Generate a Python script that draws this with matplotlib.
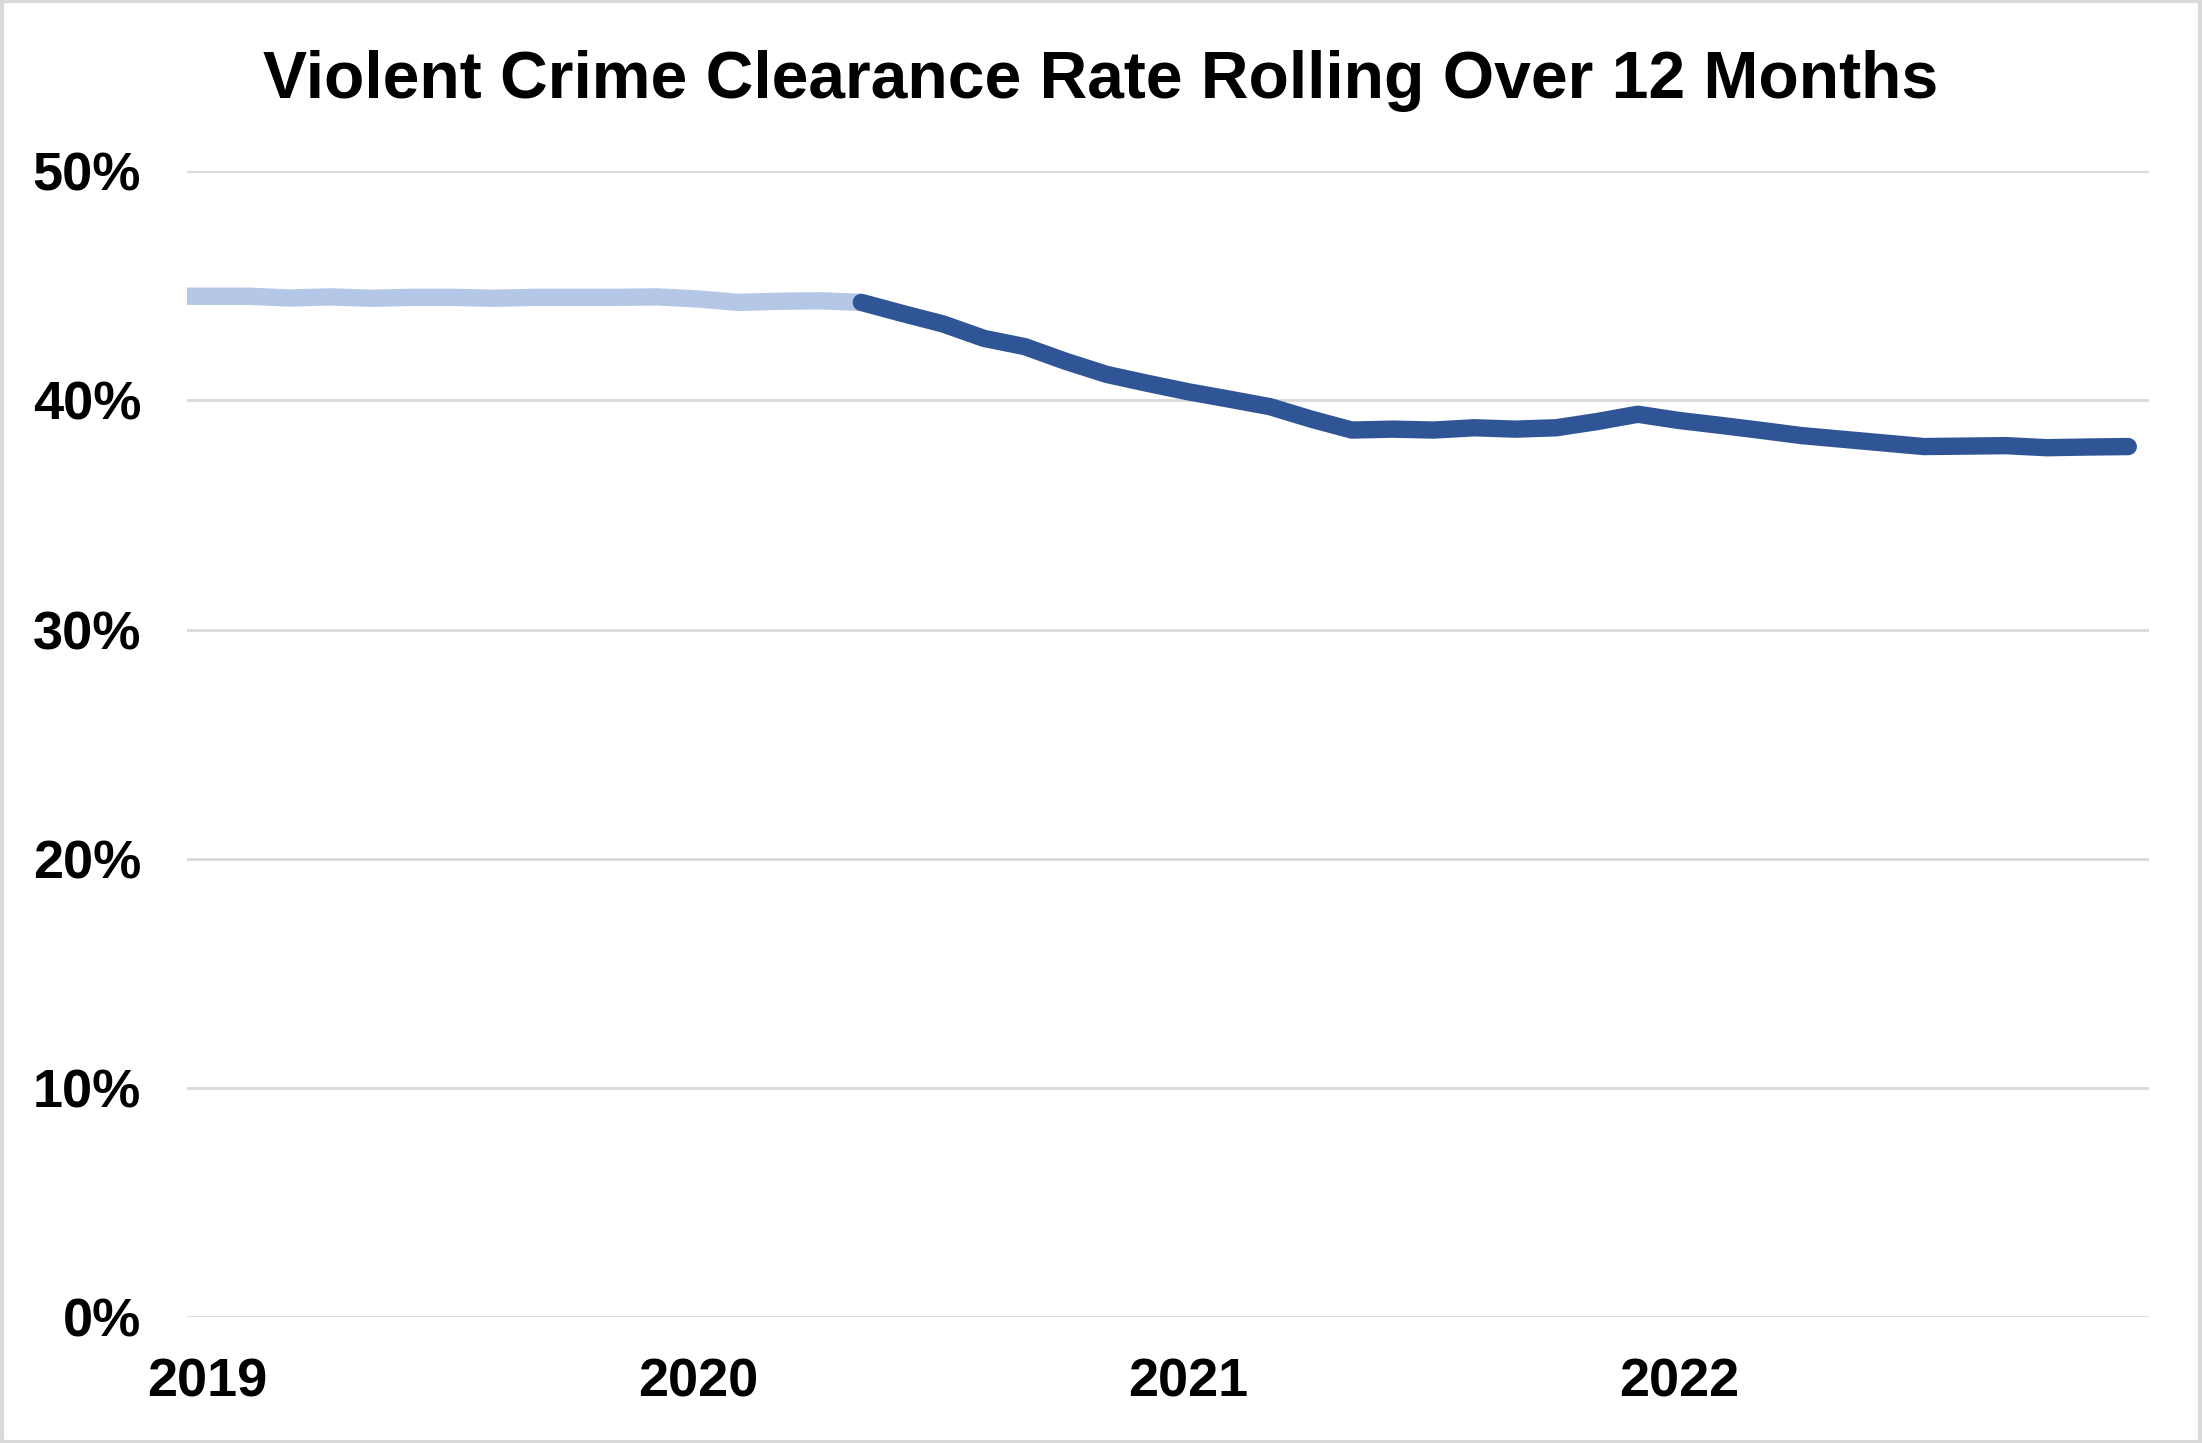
import numpy as np
import matplotlib
matplotlib.use("Agg")
import matplotlib.pyplot as plt
from matplotlib.patches import Rectangle

plt.rcParams['font.family'] = ['Liberation Sans', 'DejaVu Sans']
plt.rcParams['font.weight'] = 'bold'

# month index: 0 = Jan 2019 ... 47 = Dec 2022 (-1 = Dec 2018, clipped at the edge)
light_months = list(range(-1, 17))
light_rate = [44.55, 44.55, 44.55, 44.47, 44.52, 44.46, 44.50, 44.50, 44.46,
              44.50, 44.50, 44.50, 44.52, 44.43, 44.28, 44.33, 44.35, 44.28]

dark_months = list(range(16, 48))
dark_rate = [44.28, 43.80, 43.34, 42.71, 42.35, 41.71, 41.14, 40.75, 40.38,
             40.06, 39.73, 39.19, 38.71, 38.75, 38.71, 38.81, 38.75, 38.81,
             39.08, 39.40, 39.13, 38.92, 38.70, 38.47, 38.31, 38.15, 37.99,
             38.01, 38.03, 37.94, 37.97, 37.99]

year_pos = [0, 12, 24, 36]
year_labels = ["2019", "2020", "2021", "2022"]
y_ticks = [0, 10, 20, 30, 40, 50]

fig = plt.figure(figsize=(22.02, 14.43), dpi=100)
ax = fig.add_axes([0.0849, 0.0871, 0.8909, 0.7942])

ax.plot(light_months, light_rate, color="#b4c7e7", lw=12.5,
        solid_capstyle="butt", solid_joinstyle="round", zorder=3)
ax.plot(dark_months, dark_rate, color="#2f5597", lw=12.5,
        solid_capstyle="round", solid_joinstyle="round", zorder=4)

ax.set_xlim(-0.5, 47.5)
ax.set_ylim(0, 50)
ax.set_yticks(y_ticks)
ax.set_yticklabels([f"{t}%" for t in y_ticks])
ax.set_xticks(year_pos)
ax.set_xticklabels(year_labels)
ax.tick_params(axis="both", length=0, labelsize=39)
ax.tick_params(axis="y", pad=33)
ax.tick_params(axis="x", pad=29)
ax.grid(axis="y", color="#d9d9d9", lw=2, zorder=0)
for s in ax.spines.values():
    s.set_visible(False)

fig.text(0.5, 0.932, "Violent Crime Clearance Rate Rolling Over 12 Months",
         ha="center", va="baseline", fontsize=47.5, fontweight="bold")

# light grey chart border
fig.patches.append(Rectangle((0.001, 0.001), 0.998, 0.998, transform=fig.transFigure,
                             fill=False, edgecolor="#d9d9d9", lw=3))

fig.savefig("out.png", dpi=100)
